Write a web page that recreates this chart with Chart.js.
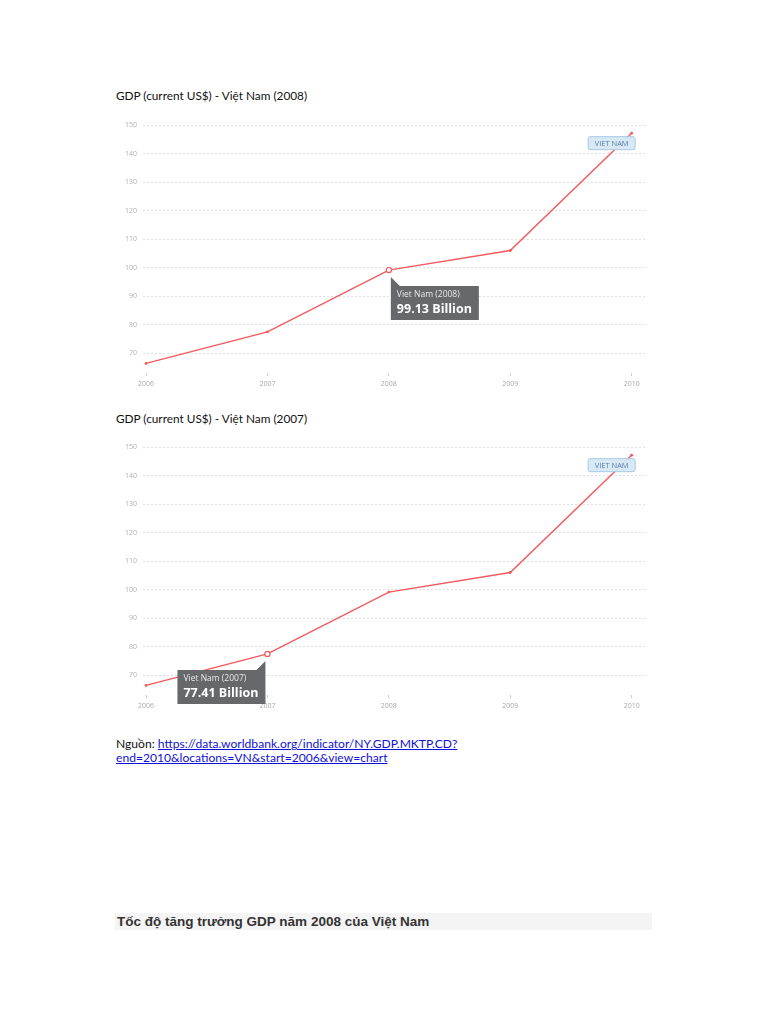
<!DOCTYPE html>
<html>
<head>
<meta charset="utf-8">
<script src="https://cdn.jsdelivr.net/npm/chart.js@4/dist/chart.umd.min.js"></script>
<style>
  html, body { margin: 0; padding: 0; background: #fff; }
  body { width: 768px; height: 1024px; position: relative; overflow: hidden; font-family: Lato, "Noto Sans", sans-serif; }
  .title { position: absolute; left: 116px; font-size: 11.8px; color: #111; }
  .box { position: absolute; left: 100px; width: 560px; height: 280px; }
  .src { position: absolute; left: 116px; top: 737px; font-size: 12.1px; line-height: 14px; color: #111; }
  .src a { color: #1010d8; text-decoration: underline; }
  .heading { position: absolute; left: 115px; top: 913px; width: 535px; height: 17px; background: #f4f4f4;
             font-family: "Liberation Sans", Arial, sans-serif; font-weight: bold; font-size: 13.5px; line-height: 17px; color: #333; padding-left: 2px; }
</style>
</head>
<body>

<div class="title" style="top:88px">GDP (current US$) - Việt Nam (2008)</div>
<div class="box" style="top:115px"><canvas id="chart2008"></canvas></div>

<div class="title" style="top:411px">GDP (current US$) - Việt Nam (2007)</div>
<div class="box" style="top:437px"><canvas id="chart2007"></canvas></div>

<div class="src">Nguồn: <a href="#">https://data.worldbank.org/indicator/NY.GDP.MKTP.CD?<br>end=2010&amp;locations=VN&amp;start=2006&amp;view=chart</a></div>

<div class="heading">Tốc độ tăng trưởng GDP năm 2008 của Việt Nam</div>

<script>
const years = [2006, 2007, 2008, 2009, 2010];
const gdpBillion = [66.37, 77.41, 99.13, 106.01, 147.2];
const yTicks = [70, 80, 90, 100, 110, 120, 130, 140, 150];
const seriesName = "Viet Nam";
const legendName = "VIET NAM";

// tooltip plugin, drawn at the highlighted point
const hoverBox = {
  id: "hoverBox",
  afterDatasetsDraw(chart, args, opts) {
    const ctx = chart.ctx;
    const pts = chart.getDatasetMeta(0).data;

    // series label at the line end
    const last = pts[pts.length - 1];
    ctx.save();
    ctx.fillStyle = "rgba(214,232,246,0.95)";
    ctx.strokeStyle = "#a9c9e2";
    ctx.lineWidth = 1;
    ctx.beginPath();
    ctx.roundRect(last.x - 43.5, last.y + 3.5, 47, 13, 2);
    ctx.fill();
    ctx.stroke();
    ctx.fillStyle = "#5b7fa3";
    ctx.font = "7.5px 'Open Sans', sans-serif";
    ctx.textAlign = "center";
    ctx.textBaseline = "middle";
    ctx.fillText(legendName, last.x - 20, last.y + 10.5);
    ctx.restore();

    const i = opts.index;
    const p = pts[i];
    const w = 88, h = 34;
    const left = opts.side === "right" ? p.x + 2 : p.x - 2 - w;
    const top = p.y + 16;
    ctx.save();
    ctx.fillStyle = "#66686b";
    ctx.beginPath();
    if (opts.side === "right") {
      ctx.moveTo(left, top - 9);
      ctx.lineTo(left + 9, top);
      ctx.lineTo(left + w, top);
      ctx.lineTo(left + w, top + h);
      ctx.lineTo(left, top + h);
    } else {
      ctx.moveTo(left, top);
      ctx.lineTo(left + w - 9, top);
      ctx.lineTo(left + w, top - 9);
      ctx.lineTo(left + w, top + h);
      ctx.lineTo(left, top + h);
    }
    ctx.closePath();
    ctx.fill();
    ctx.fillStyle = "#e8e8e8";
    ctx.font = "8.5px 'Open Sans', sans-serif";
    ctx.textBaseline = "alphabetic";
    ctx.fillText(seriesName + " (" + years[i] + ")", left + 6, top + 11);
    ctx.fillStyle = "#ffffff";
    ctx.font = "bold 12.5px 'Open Sans', sans-serif";
    ctx.fillText(gdpBillion[i].toFixed(2) + " Billion", left + 6, top + 27);
    ctx.restore();
  }
};

function makeChart(id, hiIndex, side) {
  new Chart(document.getElementById(id), {
    type: "line",
    data: {
      datasets: [{
        data: years.map((y, k) => ({ x: y, y: gdpBillion[k] })),
        borderColor: "#f4595c",
        borderWidth: 1.4,
        tension: 0,
        pointRadius: ctx => ctx.dataIndex === hiIndex ? 2.6 : 1.4,
        pointBackgroundColor: ctx => ctx.dataIndex === hiIndex ? "#ffffff" : "#f4595c",
        pointBorderColor: "#f4595c",
        pointBorderWidth: ctx => ctx.dataIndex === hiIndex ? 1.2 : 0
      }]
    },
    options: {
      responsive: false,
      animation: false,
      devicePixelRatio: 1,
      layout: { padding: { top: 10, right: 15, left: 0, bottom: 0 } },
      plugins: {
        legend: { display: false },
        tooltip: { enabled: false },
        hoverBox: { index: hiIndex, side: side }
      },
      scales: {
        x: {
          type: "linear",
          min: 2005.975,
          max: 2010.11,
          afterBuildTicks: axis => { axis.ticks = years.map(v => ({ value: v })); },
          afterFit: axis => { axis.height = 22; },
          ticks: {
            color: "#a8a8a8",
            font: { size: 7, family: "'Open Sans', sans-serif" },
            padding: 4,
            maxRotation: 0,
            callback: v => String(v)
          },
          grid: { drawOnChartArea: false, tickLength: 3, color: "#cfcfcf" },
          border: { display: false }
        },
        y: {
          min: 63,
          max: 150,
          afterBuildTicks: axis => { axis.ticks = yTicks.map(v => ({ value: v })); },
          afterFit: axis => { axis.width = 43; },
          ticks: {
            color: "#b0b0b0",
            font: { size: 7, family: "'Open Sans', sans-serif" },
            padding: 6
          },
          grid: { color: "#e0e0e0", drawTicks: false, lineWidth: 1 },
          border: { display: false, dash: [2, 2] }
        }
      }
    },
    plugins: [hoverBox]
  });
}

// canvas size fixed
for (const id of ["chart2008", "chart2007"]) {
  const c = document.getElementById(id);
  c.width = 560; c.height = 280;
  c.style.width = "560px"; c.style.height = "280px";
}

makeChart("chart2008", 2, "right");
makeChart("chart2007", 1, "left");
</script>
</body>
</html>
